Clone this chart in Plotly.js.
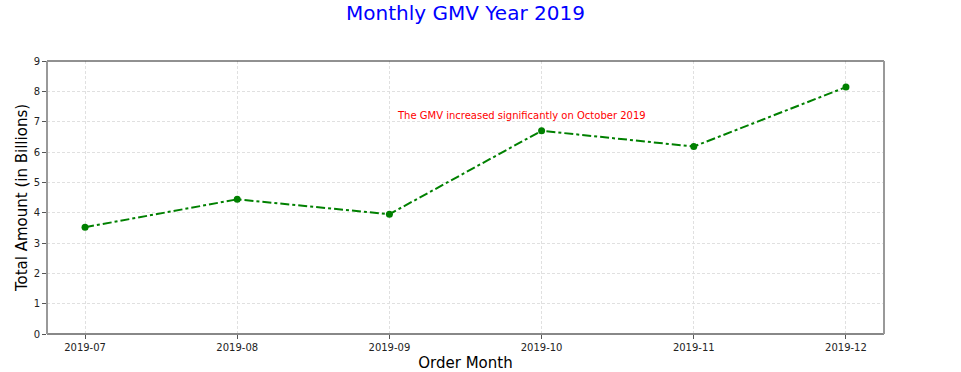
<!DOCTYPE html>
<html>
<head>
<meta charset="utf-8">
<script src="https://cdn.plot.ly/plotly-3.0.1.min.js"></script>
<style>html,body{margin:0;padding:0;background:#fff;}#chart{width:961px;height:372px;}</style>
</head>
<body>
<div id="chart"></div>
<script>
const months = ["2019-07", "2019-08", "2019-09", "2019-10", "2019-11", "2019-12"];
const gmvBillions = [3.52, 4.44, 3.95, 6.70, 6.18, 8.14];
const yTicks = [0, 1, 2, 3, 4, 5, 6, 7, 8, 9];
const noteText = "The GMV increased significantly on October 2019";

const trace = {
  x: months,
  y: gmvBillions,
  type: "scatter",
  mode: "lines+markers",
  line: {color: "green", width: 2, dash: "dashdot"},
  marker: {color: "green", size: 7},
  showlegend: false,
  hoverinfo: "x+y"
};

const spine = (x0, y0, x1, y1, color, w) => ({
  type: "line", xref: "paper", yref: "paper", x0, y0, x1, y1,
  line: {color, width: w}, layer: "above"
});

const layout = {
  width: 961, height: 372,
  margin: {l: 47, r: 77, t: 61, b: 38},
  paper_bgcolor: "#fff", plot_bgcolor: "#fff",
  font: {family: "DejaVu Sans", size: 10, color: "#222"},
  title: {text: "Monthly GMV Year 2019", font: {color: "blue", size: 20, family: "DejaVu Sans"},
          x: 0.5, xref: "paper", xanchor: "center", y: 0.985, yanchor: "top"},
  xaxis: {
    type: "category", range: [-0.25, 5.25],
    title: {text: "Order Month", font: {size: 15, color: "#000"}, standoff: 6},
    showgrid: true, gridcolor: "#e0e0e0", griddash: "3px,2px", gridwidth: 1,
    ticks: "outside", ticklen: 4, tickcolor: "#555", tickfont: {size: 10},
    zeroline: false, showline: false
  },
  yaxis: {
    range: [0, 9], tickvals: yTicks, ticktext: yTicks.map(String),
    title: {text: "Total Amount (in Billions)", font: {size: 15, color: "#000"}, standoff: 2},
    showgrid: true, gridcolor: "#e0e0e0", griddash: "3px,2px", gridwidth: 1,
    ticks: "outside", ticklen: 4, tickcolor: "#555", tickfont: {size: 10},
    zeroline: false, showline: false
  },
  shapes: [
    spine(0, 1, 1, 1, "#222", 1),
    spine(0, 0, 1, 0, "#888", 2),
    spine(0, 0, 0, 1, "#999", 2),
    spine(1, 0, 1, 1, "#999", 2)
  ],
  annotations: [{
    text: noteText, x: 2.035, y: 7.2, xref: "x", yref: "y",
    xanchor: "left", yanchor: "middle", showarrow: false,
    font: {color: "red", size: 10}
  }]
};

Plotly.newPlot("chart", [trace], layout, {displayModeBar: false, staticPlot: false});
</script>
</body>
</html>
